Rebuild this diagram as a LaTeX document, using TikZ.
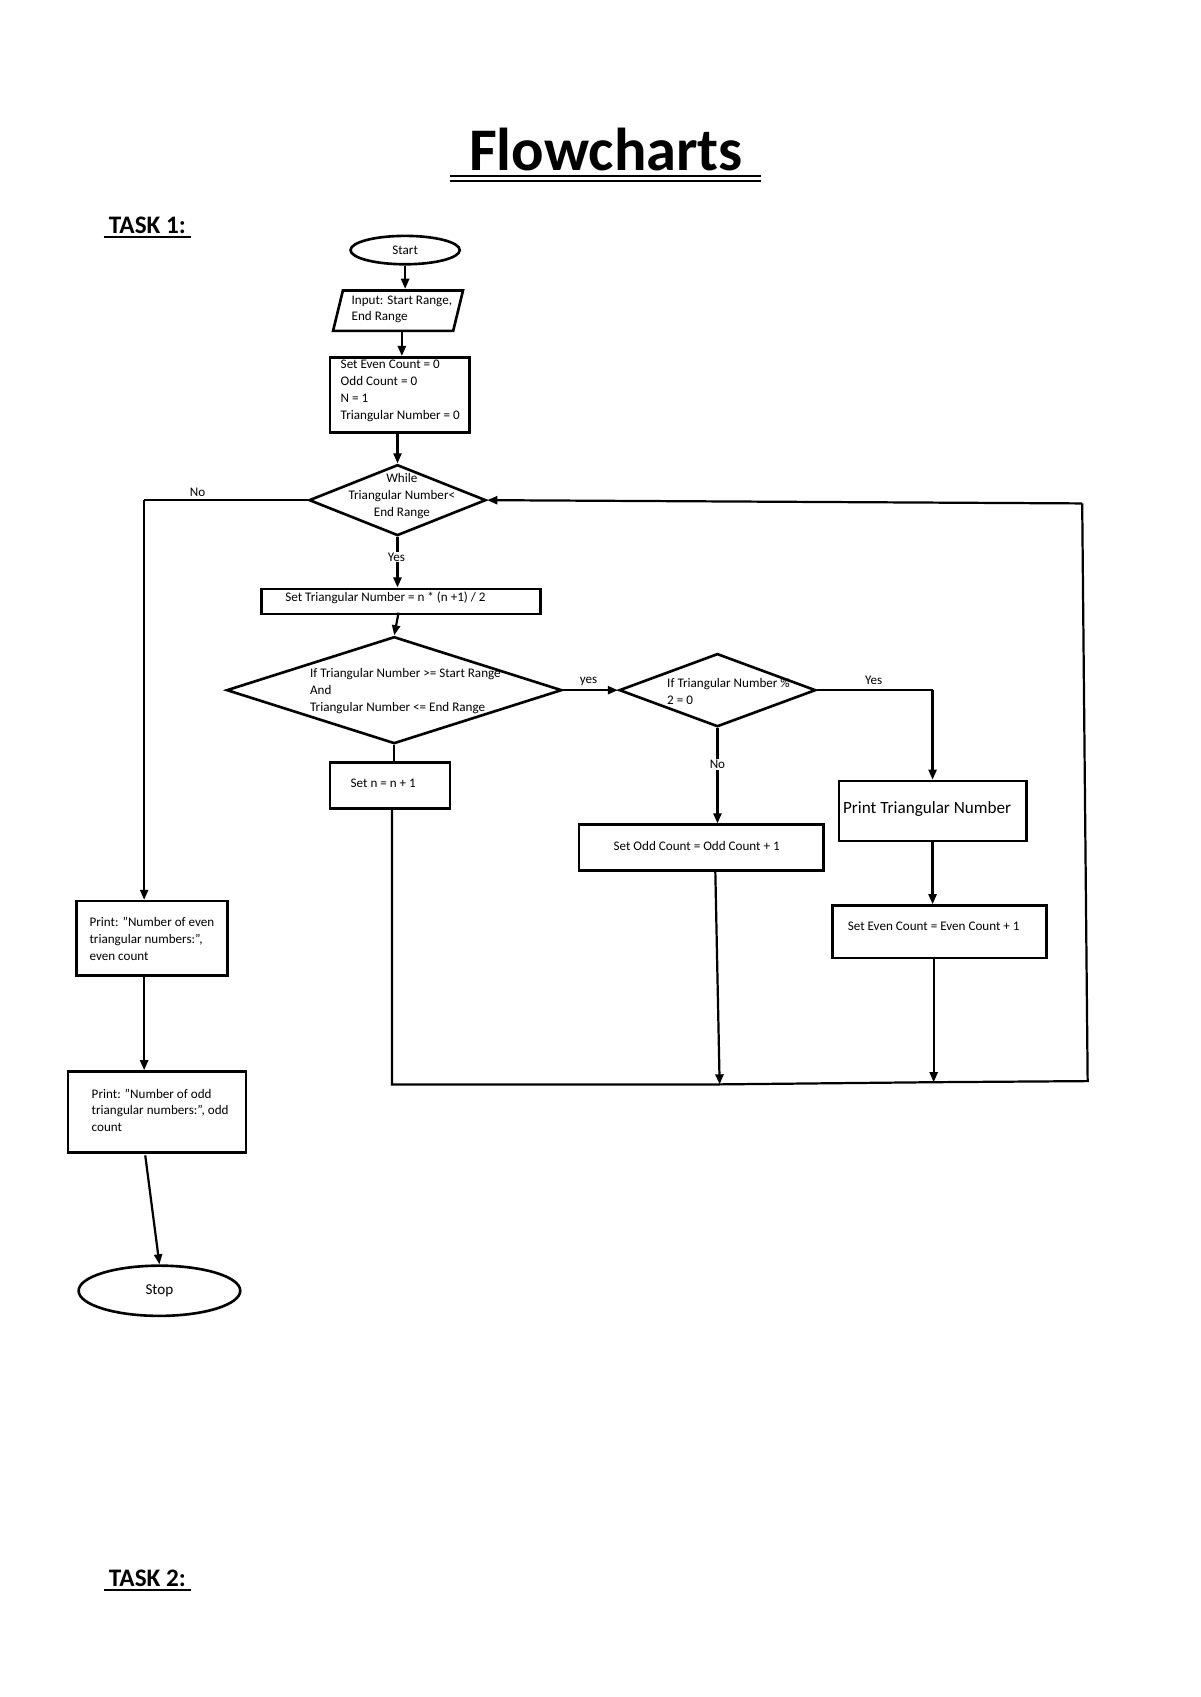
\documentclass[tikz,border=0pt]{standalone}
\usepackage{fontspec}
\setmainfont{Carlito}
\usetikzlibrary{shapes.geometric,arrows.meta}
\begin{document}
\begin{tikzpicture}[x=0.5414pt,y=-0.5414pt,
  every path/.style={line width=1.1pt},
  box/.style={draw,line width=1.3pt,rectangle,inner sep=0,anchor=north west},
  dia/.style={draw,line width=1.3pt,diamond,inner sep=0},
  txt/.style={font=\fontsize{6.5}{8}\selectfont,align=left,anchor=north west,inner sep=0},
  lab/.style={font=\fontsize{6.5}{8}\selectfont,inner sep=0},
  arr/.style={-{Triangle[length=5pt,width=4pt]}}]
\useasboundingbox (0,0) rectangle (1099,1554);
% titles
\node[font=\fontsize{30}{34}\bfseries\selectfont,inner sep=0] (title) at (555,137) {Flowcharts};
\draw[line width=0.9pt] (412,161) -- (697,161) (412,166) -- (697,166);
\node[font=\fontsize{12.5}{14}\bfseries\selectfont,inner sep=0] (t1) at (135,206) {TASK 1:};
\draw[line width=0.8pt] (95,217) -- (175,217);
\node[font=\fontsize{12.5}{14}\bfseries\selectfont,inner sep=0] (t2) at (135,1445) {TASK 2:};
\draw[line width=0.8pt] (95,1456) -- (175,1456);
% shapes
\node[draw,line width=1.3pt,ellipse,minimum width=100*0.5414pt,minimum height=26*0.5414pt,inner sep=0,font=\fontsize{6.5}{8}\selectfont] (start) at (371,229) {Start};
\node[rectangle,minimum width=110*0.5414pt,minimum height=37*0.5414pt,inner sep=0] (inp) at (365,284) {};
\draw[line width=1.3pt] (305,303) -- (314,266) -- (424,266) -- (415,303) -- cycle;
\node[txt] at (321,270) {Input: Start Range,\\End Range};
\node[box,minimum width=128*0.5414pt,minimum height=69*0.5414pt] (set) at (301,326) {};
\node[txt,font=\fontsize{6.5}{8.4}\selectfont] at (311,329) {Set Even Count = 0\\Odd Count = 0\\N = 1\\Triangular Number = 0};
\node[dia,minimum width=162*0.5414pt,minimum height=65*0.5414pt] (while) at (364,458) {};
\node[lab,align=center,font=\fontsize{6.5}{8.4}\selectfont] at (368,454) {While\\Triangular Number<\\End Range};
\node[box,minimum width=256*0.5414pt,minimum height=23*0.5414pt] (settri) at (238,538) {};
\node[lab] at (353,547) {Set Triangular Number = n * (n +1) / 2};
\node[dia,minimum width=307*0.5414pt,minimum height=98*0.5414pt] (d2) at (361,632) {};
\node[txt,font=\fontsize{6.5}{8.4}\selectfont] at (283,611) {If Triangular Number >= Start Range\\And\\Triangular Number <= End Range};
\node[box,minimum width=110*0.5414pt,minimum height=42*0.5414pt] (setn) at (301,697) {};
\node[lab] at (351,717) {Set n = n + 1};
\node[dia,minimum width=180*0.5414pt,minimum height=67*0.5414pt] (d3) at (657,632) {};
\node[txt,font=\fontsize{6.5}{8.4}\selectfont] at (610,620) {If Triangular Number \%\\2 = 0};
\node[box,minimum width=172*0.5414pt,minimum height=55*0.5414pt] (ptri) at (767,714) {};
\node[lab,font=\fontsize{8.5}{10}\selectfont] at (849,741) {Print Triangular Number};
\node[box,minimum width=224*0.5414pt,minimum height=42*0.5414pt] (odd) at (529,754) {};
\node[lab] at (638,775) {Set Odd Count = Odd Count + 1};
\node[box,minimum width=196*0.5414pt,minimum height=48*0.5414pt] (even) at (761,828) {};
\node[lab] at (855,848) {Set Even Count = Even Count + 1};
\node[box,minimum width=138*0.5414pt,minimum height=68*0.5414pt] (pe) at (69,824) {};
\node[txt,font=\fontsize{6.5}{8.4}\selectfont] at (81,839) {Print: "Number of even\\triangular numbers:",\\even count};
\node[box,minimum width=163*0.5414pt,minimum height=74*0.5414pt] (po) at (61,980) {};
\node[txt,font=\fontsize{6.5}{8.4}\selectfont] at (83,996) {Print: "Number of odd\\triangular numbers:", odd\\count};
\node[draw,line width=1.3pt,ellipse,minimum width=148*0.5414pt,minimum height=46*0.5414pt,inner sep=0,font=\fontsize{7.5}{9}\selectfont] (stop) at (146,1182) {Stop};
% coordinates
\coordinate (nL) at (132,458);
\coordinate (y3) at (854,632);
\coordinate (b1) at (359,993);
\coordinate (b2) at (659,993);
\coordinate (b3) at (855,991);
\coordinate (b4) at (996,990);
\coordinate (r1) at (991,461);
% connectors
\draw[arr] (start) -- (start|-inp.north);
\draw[arr] (inp.south-|368,0) -- (368,326);
\draw[arr] (364,395) -- (while.north);
\draw (while.west) -- (nL);
\draw[arr] (nL) -- (pe.north-|nL);
\node[lab] at (181,451) {No};
\draw[arr] (while.south) -- (364,538);
\node[lab,fill=white,inner sep=0.5pt] at (363,510) {Yes};
\draw[arr] (365,561) -- (d2.north);
\draw[arr] (d2.east) -- (d3.west);
\node[lab] at (539,624) {yes};
\draw (d3.east) -- (y3);
\draw[arr] (y3) -- (854,714);
\node[lab] at (800,623) {Yes};
\draw[arr] (d3.south) -- (657,754);
\node[lab,fill=white,inner sep=0.5pt] at (657,700) {No};
\draw (d2.south) -- (361,697);
\draw (359,739) -- (b1) -- (b2) -- (b3) -- (b4) -- (r1);
\draw[arr] (r1) -- (while.east);
\draw[arr] (655,796) -- (b2);
\draw[arr] (854,769) -- (854,828);
\draw[arr] (855,876) -- (b3);
\draw[arr] (132,892) -- (132,980);
\draw[arr] (133,1058) -- (stop.north);
\end{tikzpicture}
\end{document}
